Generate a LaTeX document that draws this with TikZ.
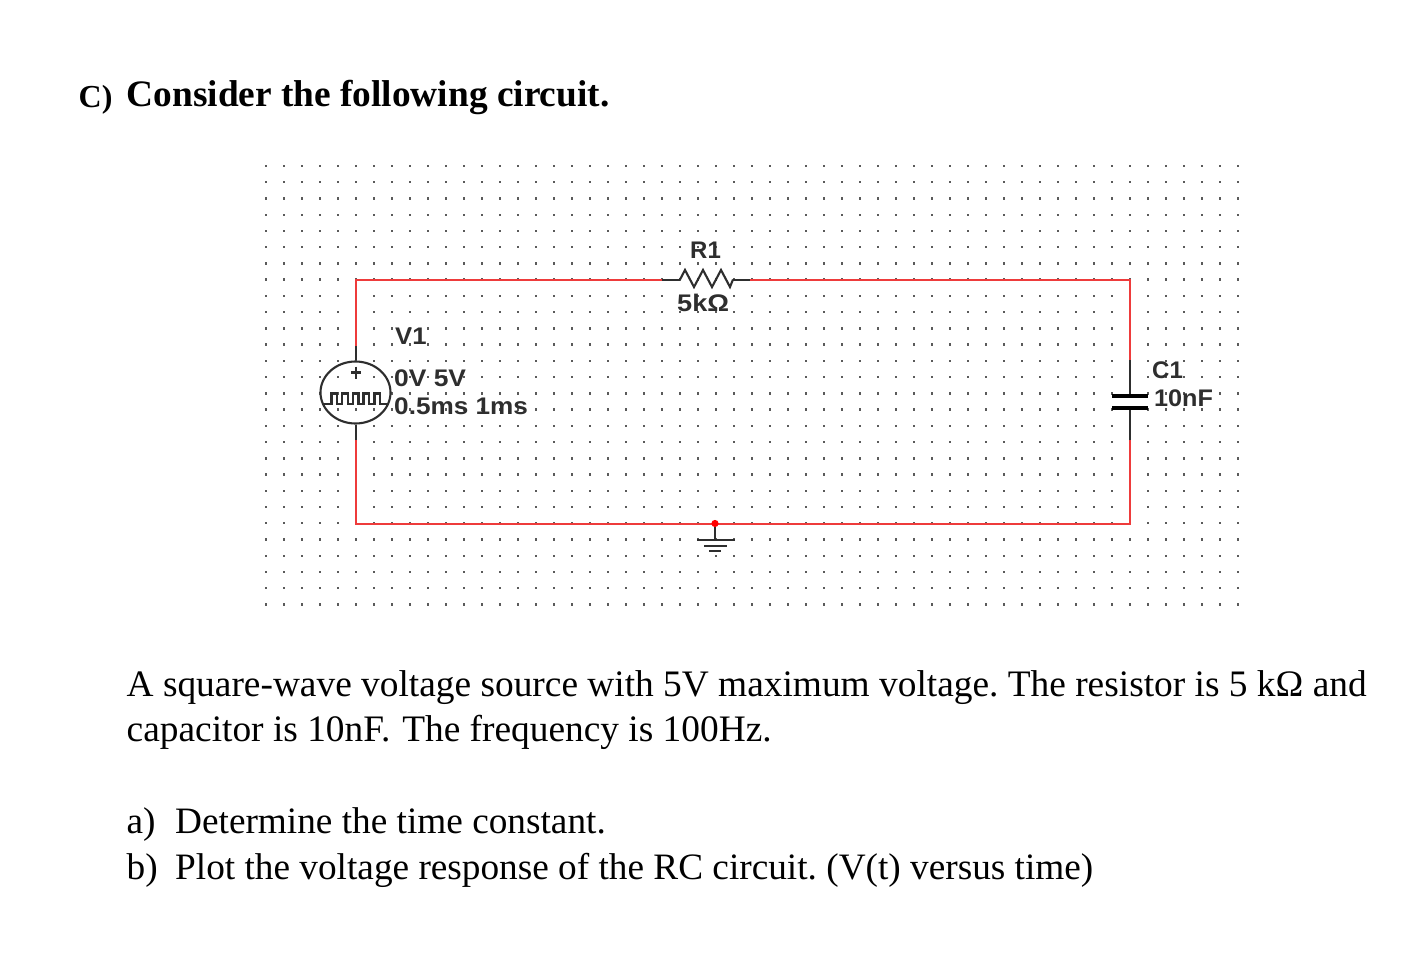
\documentclass[tikz,border=0pt]{standalone}
\usepackage{fontspec}
\usetikzlibrary{shapes.geometric}
\setmainfont{Liberation Serif}
\newfontfamily\schem{Liberation Sans}
\definecolor{wirered}{HTML}{EE3B3B}
\definecolor{pin}{HTML}{2E2E2E}
\definecolor{griddot}{HTML}{5A5A5A}
\tikzset{
  body/.style={anchor=base west,inner sep=0pt,font=\fontsize{37.37}{37.37}\selectfont\frenchspacing,text=black},
  bodyq/.style={body,font=\fontsize{37.27}{37.27}\selectfont\frenchspacing},
  lab/.style={anchor=base west,inner sep=0pt,font=\schem\bfseries\fontsize{24}{24}\selectfont,text=pin},
  wire/.style={draw=wirered,line width=2pt},
  lead/.style={draw=pin,line width=2pt},
  sym/.style={draw=pin,line width=2.1pt,line join=miter},
  plate/.style={draw=black,line width=3.4pt}
}
\begin{document}
\begin{tikzpicture}[x=1pt,y=-1pt]
\useasboundingbox (0,0) rectangle (1423,969);
\fill[white] (0,0) rectangle (1423,969);
% dotted grid
\foreach \i in {0,...,54}{\foreach \j in {0,...,27}{
  \fill[griddot] ({266+18*\i-1.2},{166+16.24*\j-1.2}) rectangle ++(2.4,2.4);
}}
% text
\node[body,font=\bfseries\fontsize{32}{32}\selectfont] (hc) at (78.5,107) {C)};
\node[body,font=\bfseries\fontsize{37.35}{37.35}\selectfont] (ht) at (126.5,106) {Consider the following circuit.};
\node[body] (l1) at (126.5,696) {A square-wave voltage source with 5V maximum voltage. The resistor is 5 k\symbol{"03A9} and};
\node[body] (l2) at (126.5,741) {capacitor is 10nF.\hspace{2.5pt} The frequency is 100Hz.};
\node[bodyq] (qa) at (126.5,833) {a)};
\node[bodyq] (qat) at (175,833) {Determine the time constant.};
\node[bodyq] (qb) at (126.5,879) {b)};
\node[bodyq] (qbt) at (175,879) {Plot the voltage response of the RC circuit. (V(t) versus time)};
% corners and terminals
\coordinate (tl) at (355.5,279.5);
\coordinate (tr) at (1130,279.5);
\coordinate (bl) at (355.5,523.5);
\coordinate (br) at (1130,523.5);
\coordinate (rL) at (662,279.5);
\coordinate (rR) at (750,279.5);
\coordinate (vT) at (355.5,346);
\coordinate (vB) at (355.5,440);
\coordinate (cT) at (1130,360);
\coordinate (cB) at (1130,440);
\coordinate (gnd) at (715,523.5);
% source
\node[draw=pin,line width=2.1pt,ellipse,minimum width=70pt,minimum height=62pt,inner sep=0pt] (src) at (355.5,392.5) {};
% red wires
\draw[wire] (rL) -- (tl) -- (vT);
\draw[wire] (rR) -- (tr) -- (cT);
\draw[wire] (vB) -- (bl) -- (br) -- (cB);
% leads
\draw[lead] (vT) -- (vT |- src.north);
\draw[lead] (vB) -- (vB |- src.south);
\draw[lead] (rL) -- (680,279.5);
\draw[lead] (733,279.5) -- (rR);
\draw[sym] (680,279.5) -- (685,270) -- (694,287) -- (703,270) -- (712,287) -- (721,270) -- (730,287) -- (733,279.5);
\draw[lead] (cT) -- (1130,396);
\draw[lead] (cB) -- (1130,408);
\draw[plate] (1112,396) -- (1148,396);
\draw[plate] (1112,408) -- (1148,408);
% plus and square wave
\draw[sym] (351,372.5) -- (361,372.5) (356,366.5) -- (356,378.5);
\draw[sym] (323,404) -- (331.5,404) -- (331.5,393.5) -- (337,393.5) -- (337,404) -- (342.2,404) -- (342.2,393.5) -- (347.7,393.5) -- (347.7,404) -- (353,404) -- (353,393.5) -- (358.5,393.5) -- (358.5,404) -- (363.5,404) -- (363.5,393.5) -- (369,393.5) -- (369,404) -- (374.5,404) -- (374.5,393.5) -- (380,393.5) -- (380,404) -- (388,404);
% ground
\draw[lead] (gnd) -- (715,540);
\draw[sym] (697,540) -- (735,540);
\draw[sym] (704,546) -- (727,546);
\draw[sym] (709,551) -- (721,551);
\fill[red] (gnd) circle (3.6pt);
% labels
\node[lab] (r1) at (690,258) {R1};
\node[lab] (rv) at (677,311) {\scalebox{1.13}[1]{5k\symbol{"03A9}}};
\node[lab] (v1) at (395,344) {\scalebox{1.07}[1]{V1}};
\node[lab] (vv) at (394,386.5) {\scalebox{1.1}[1]{0V 5V}};
\node[lab] (vt) at (394,414) {\scalebox{1.09}[1]{0.5ms 1ms}};
\node[lab] (c1) at (1152,378) {C1};
\node[lab] (cv) at (1154,406.5) {\scalebox{1.05}[1]{10nF}};
\end{tikzpicture}
\end{document}
